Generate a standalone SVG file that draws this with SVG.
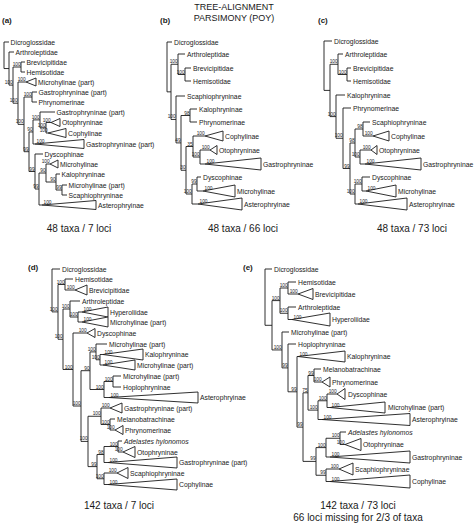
<svg xmlns="http://www.w3.org/2000/svg" width="474" height="523" viewBox="0 0 474 523">
<style>
text{font-family:"Liberation Sans",Arial,sans-serif;fill:#1a1a1a}
.t{font-size:6.8px;dominant-baseline:central}
.i{font-style:italic}
.n{font-size:4.8px;text-anchor:end}
.s{font-size:4.8px;text-anchor:start}
.c{font-size:10px;text-anchor:middle}
.p{font-size:8px;font-weight:bold}
.h{font-size:9px;text-anchor:middle}
.e path{fill:none;stroke:#1a1a1a;stroke-width:0.9}
polygon{fill:#fff;stroke:#1a1a1a;stroke-width:0.9;stroke-linejoin:miter}
</style>
<rect width="474" height="523" fill="#fff"/>
<g id="title"><text class="h" x="234" y="10">TREE-ALIGNMENT</text><text class="h" x="234" y="21">PARSIMONY (POY)</text></g>

<!-- Panel A -->
<g id="panel-a">
<text class="p" x="2" y="23">(a)</text>
<g class="e" id="a-connectors">
<path d="M9 42H4V68.55H9"/><path d="M14 52H9V85.1H13"/><path d="M21 67H13V103.2H18"/><path d="M25 62H21V72H25"/>
<path d="M26 82H18V124.35H24"/><path d="M32 97H24V151.7H29"/><path d="M37 92H32V102H37"/>
<path d="M33 131.95H29V171.5H35"/><path d="M40 119.9H33V144H35"/><path d="M55 112H40V127.75H46"/><path d="M51 122.5H46V133H48"/>
<path d="M43 154H35V189H39"/><path d="M46 173H39V205H42"/><path d="M50 164H46V182H56"/><path d="M60 174H56V190H62"/><path d="M67 185H62V195H67"/>
</g>
<g id="a-dicroglossidae"><text class="t" x="10.5" y="42">Dicroglossidae</text></g>
<g id="a-arthroleptidae"><text class="t" x="15.5" y="52">Arthroleptidae</text></g>
<g id="a-brevicipitidae"><text class="t" x="26.5" y="62">Brevicipitidae</text></g>
<g id="a-hemisotidae"><text class="t" x="26.5" y="72">Hemisotidae</text></g>
<g id="a-microhylinae-part1"><polygon points="26,82 36,78 36,86"/><text class="t" x="38" y="82">Microhylinae (part)</text></g>
<g id="a-gastrophryninae-part1"><text class="t" x="38.5" y="92">Gastrophryninae (part)</text></g>
<g id="a-phrynomerinae"><text class="t" x="38.5" y="102">Phrynomerinae</text></g>
<g id="a-gastrophryninae-part2"><text class="t" x="56.5" y="112">Gastrophryninae (part)</text></g>
<g id="a-otophryninae"><polygon points="51,122.5 60,118.5 60,126.5"/><text class="t" x="62" y="122.5">Otophryninae</text></g>
<g id="a-cophylinae"><polygon points="48,133 66,128.5 66,137.5"/><text class="t" x="68" y="133">Cophylinae</text></g>
<g id="a-gastrophryninae-part3"><polygon points="35,144 84,139.5 84,148.5"/><text class="t" x="86" y="144">Gastrophryninae (part)</text></g>
<g id="a-dyscophinae"><text class="t" x="44.5" y="154">Dyscophinae</text></g>
<g id="a-microhylinae"><polygon points="50,164 58,160 58,168"/><text class="t" x="60" y="164">Microhylinae</text></g>
<g id="a-kalophryninae"><text class="t" x="61.5" y="174">Kalophryninae</text></g>
<g id="a-microhylinae-part2"><text class="t" x="68.5" y="185">Microhylinae (part)</text></g>
<g id="a-scaphiophryninae"><text class="t" x="68.5" y="195">Scaphiophryninae</text></g>
<g id="a-asterophryinae"><polygon points="42,205 96,200.5 96,209.5"/><text class="t" x="98" y="205">Asterophryinae</text></g>
<g id="a-support">
<text class="n" x="20.7" y="66">100</text><text class="n" x="12.7" y="84.1">100</text><text class="n" x="17.7" y="102.2">100</text><text class="n" x="23.7" y="123.35">100</text>
<text class="n" x="31.7" y="96">100</text><text class="n" x="28.7" y="150.7">99</text><text class="n" x="32.7" y="130.95">90</text><text class="n" x="39.7" y="118.9">100</text>
<text class="n" x="45.7" y="126.75">100</text><text class="n" x="34.7" y="170.5">99</text><text class="n" x="38.7" y="188">99</text><text class="n" x="45.7" y="172">90</text>
<text class="n" x="55.7" y="181">90</text><text class="n" x="61.7" y="189">99</text>
<text class="n" x="25.7" y="81">100</text><text class="n" x="50.7" y="121.5">100</text><text class="n" x="47.7" y="132">100</text><text class="s" x="36.5" y="143">100</text>
<text class="n" x="49.7" y="163">100</text><text class="s" x="43.5" y="204">100</text>
</g>
<text class="c" x="79" y="232">48 taxa / 7 loci</text>
</g>

<!-- Panel B -->
<g id="panel-b">
<text class="p" x="160" y="23">(b)</text>
<g class="e" id="b-connectors">
<path d="M172 42H167V91.85H171"/><path d="M178 64.25H171V119.45H176"/><path d="M185 54H178V74.5H185"/><path d="M191 68H185V81H191"/>
<path d="M185 96H176V142.9H181"/><path d="M190 115.5H181V170.25H186"/><path d="M197 109H190V122H197"/>
<path d="M193 146.5H186V194H192"/><path d="M205 136H193V157H200"/><path d="M210 150H200V164H205"/>
<path d="M197 184H192V204H198"/><path d="M201 177H197V191H203"/>
</g>
<g id="b-dicroglossidae"><text class="t" x="174" y="42">Dicroglossidae</text></g>
<g id="b-arthroleptidae"><text class="t" x="187" y="54">Arthroleptidae</text></g>
<g id="b-brevicipitidae"><text class="t" x="193" y="68">Brevicipitidae</text></g>
<g id="b-hemisotidae"><text class="t" x="193" y="81">Hemisotidae</text></g>
<g id="b-scaphiophryninae"><text class="t" x="187" y="96">Scaphiophryninae</text></g>
<g id="b-kalophryninae"><text class="t" x="199" y="109">Kalophryninae</text></g>
<g id="b-phrynomerinae"><text class="t" x="199" y="122">Phrynomerinae</text></g>
<g id="b-cophylinae"><polygon points="205,136 223,131 223,141"/><text class="t" x="225" y="136">Cophylinae</text></g>
<g id="b-otophryninae"><polygon points="210,150 217,145.5 217,154.5"/><text class="t" x="219" y="150">Otophryninae</text></g>
<g id="b-gastrophryninae"><polygon points="205,164 261,158 261,170"/><text class="t" x="263" y="164">Gastrophryninae</text></g>
<g id="b-dyscophinae"><text class="t" x="203" y="177">Dyscophinae</text></g>
<g id="b-microhylinae"><polygon points="203,191 235,185 235,197"/><text class="t" x="237" y="191">Microhylinae</text></g>
<g id="b-asterophryinae"><polygon points="198,204 242,198 242,210"/><text class="t" x="244" y="204">Asterophryinae</text></g>
<g id="b-support">
<text class="n" x="184.7" y="73.5">100</text><text class="n" x="177.7" y="63.25">100</text><text class="n" x="189.7" y="114.5">98</text><text class="n" x="199.7" y="156">100</text>
<text class="n" x="192.7" y="145.5">35</text><text class="n" x="196.7" y="183">99</text><text class="n" x="191.7" y="193">100</text><text class="n" x="185.7" y="169.25">30</text>
<text class="n" x="180.7" y="141.9">49</text><text class="n" x="175.7" y="118.45">100</text>
<text class="n" x="204.7" y="135">100</text><text class="n" x="209.7" y="149">100</text><text class="s" x="206.5" y="163">100</text><text class="s" x="204.5" y="190">100</text><text class="s" x="199.5" y="203">100</text>
</g>
<text class="c" x="243" y="232">48 taxa / 66 loci</text>
</g>

<!-- Panel C -->
<g id="panel-c">
<text class="p" x="318" y="23">(c)</text>
<g class="e" id="c-connectors">
<path d="M332 41H324V90.4H330"/><path d="M338 64.25H330V116.6H336"/><path d="M343 54H338V74.5H347"/><path d="M351 68H347V81H351"/>
<path d="M345 95H336V138.25H343"/><path d="M351 108H343V168.5H350"/><path d="M355 143H350V194H355"/>
<path d="M363 129H355V157H360"/><path d="M370 122H363V136H373"/><path d="M371 150H360V164H365"/>
<path d="M362 184H355V204H358"/><path d="M370 177H362V191H366"/>
</g>
<g id="c-dicroglossidae"><text class="t" x="334" y="41">Dicroglossidae</text></g>
<g id="c-arthroleptidae"><text class="t" x="345" y="54">Arthroleptidae</text></g>
<g id="c-brevicipitidae"><text class="t" x="353" y="68">Brevicipitidae</text></g>
<g id="c-hemisotidae"><text class="t" x="353" y="81">Hemisotidae</text></g>
<g id="c-kalophryninae"><text class="t" x="347" y="95">Kalophryninae</text></g>
<g id="c-phrynomerinae"><text class="t" x="353" y="108">Phrynomerinae</text></g>
<g id="c-scaphiophryninae"><text class="t" x="372" y="122">Scaphiophryninae</text></g>
<g id="c-cophylinae"><polygon points="373,136 389,131 389,141"/><text class="t" x="391" y="136">Cophylinae</text></g>
<g id="c-otophryninae"><polygon points="371,150 377,145.5 377,154.5"/><text class="t" x="379" y="150">Otophryninae</text></g>
<g id="c-gastrophryninae"><polygon points="365,164 421,158 421,170"/><text class="t" x="423" y="164">Gastrophryninae</text></g>
<g id="c-dyscophinae"><text class="t" x="372" y="177">Dyscophinae</text></g>
<g id="c-microhylinae"><polygon points="366,191 396,185 396,197"/><text class="t" x="398" y="191">Microhylinae</text></g>
<g id="c-asterophryinae"><polygon points="358,204 407,198 407,210"/><text class="t" x="409" y="204">Asterophryinae</text></g>
<g id="c-support">
<text class="n" x="337.7" y="63.25">100</text><text class="n" x="346.7" y="73.5">100</text><text class="n" x="335.7" y="115.6">100</text><text class="n" x="342.7" y="137.25">100</text>
<text class="n" x="362.7" y="128">98</text><text class="n" x="354.7" y="142">98</text><text class="n" x="359.7" y="156">100</text><text class="n" x="349.7" y="167.5">99</text>
<text class="n" x="361.7" y="183">100</text><text class="n" x="354.7" y="193">100</text>
<text class="n" x="372.7" y="135">100</text><text class="n" x="370.7" y="149">100</text><text class="s" x="366.5" y="163">100</text><text class="s" x="367.5" y="190">100</text><text class="s" x="359.5" y="203">100</text>
</g>
<text class="c" x="412" y="232">48 taxa / 73 loci</text>
</g>

<!-- Panel D -->
<g id="panel-d">
<text class="p" x="28" y="270">(d)</text>
<g class="e" id="d-connectors">
<path d="M60 269H52V311.9H58"/><path d="M65 284.5H58V339.25H63"/><path d="M73 279H65V290H75"/>
<path d="M70 309H63V369.5H73"/><path d="M80 301H70V317H78"/><path d="M82 312H78V322H82"/>
<path d="M87 333H73V406H81"/><path d="M90 370.7H81V441.4H88"/>
<path d="M96 351.9H90V389.5H104"/><path d="M107 344H96V359.75H100"/><path d="M103 354.5H100V365H103"/>
<path d="M113 381.5H104V397.5H109"/><path d="M121 376H113V387H121"/>
<path d="M101 416.25H88V466.6H97"/><path d="M110 408H101V424.5H110"/><path d="M115 419H110V430H115"/>
<path d="M104 454.5H97V478.75H104"/><path d="M118 446.5H104V462.5H108"/><path d="M122 441H118V452H123"/><path d="M117 473H104V484.5H108"/>
</g>
<g id="d-dicroglossidae"><text class="t" x="62" y="269">Dicroglossidae</text></g>
<g id="d-hemisotidae"><text class="t" x="75" y="279">Hemisotidae</text></g>
<g id="d-brevicipitidae"><polygon points="75,290 87,285 87,295"/><text class="t" x="89" y="290">Brevicipitidae</text></g>
<g id="d-arthroleptidae"><text class="t" x="82" y="301">Arthroleptidae</text></g>
<g id="d-hyperoliidae"><polygon points="82,312 108,307 108,317"/><text class="t" x="110" y="312">Hyperoliidae</text></g>
<g id="d-microhylinae-part1"><polygon points="82,322 108,317 108,327"/><text class="t" x="110" y="322">Microhylinae (part)</text></g>
<g id="d-dyscophinae"><polygon points="87,333 95,328.5 95,337.5"/><text class="t" x="97" y="333">Dyscophinae</text></g>
<g id="d-microhylinae-part2"><text class="t" x="109" y="344">Microhylinae (part)</text></g>
<g id="d-kalophryninae"><polygon points="103,354.5 143,349 143,360"/><text class="t" x="145" y="354.5">Kalophryninae</text></g>
<g id="d-microhylinae-part3"><polygon points="103,365 135,360 135,370"/><text class="t" x="137" y="365">Microhylinae (part)</text></g>
<g id="d-microhylinae-part4"><text class="t" x="123" y="376">Microhylinae (part)</text></g>
<g id="d-hoplophryninae"><text class="t" x="123" y="387">Hoplophryninae</text></g>
<g id="d-asterophryinae"><polygon points="109,397.5 198,392 198,403"/><text class="t" x="200" y="397.5">Asterophryinae</text></g>
<g id="d-gastrophryninae-part1"><polygon points="110,408 122,403 122,413"/><text class="t" x="124" y="408">Gastrophryninae (part)</text></g>
<g id="d-melanobatrachinae"><text class="t" x="117" y="419">Melanobatrachinae</text></g>
<g id="d-phrynomerinae"><polygon points="115,430 123,425.5 123,434.5"/><text class="t" x="125" y="430">Phrynomerinae</text></g>
<g id="d-adelastes"><text class="t i" x="124" y="441">Adelastes hylonomos</text></g>
<g id="d-otophryninae"><polygon points="123,452 135,446.5 135,457.5"/><text class="t" x="137" y="452">Otophryninae</text></g>
<g id="d-gastrophryninae-part2"><polygon points="108,462.5 177,457 177,468"/><text class="t" x="179" y="462.5">Gastrophryninae (part)</text></g>
<g id="d-scaphiophryninae"><polygon points="117,473 128,467.5 128,478.5"/><text class="t" x="130" y="473">Scaphiophryninae</text></g>
<g id="d-cophylinae"><polygon points="108,484.5 177,479 177,490"/><text class="t" x="179" y="484.5">Cophylinae</text></g>
<g id="d-support">
<text class="n" x="64.7" y="283.5">100</text><text class="n" x="77.7" y="316">100</text><text class="n" x="69.7" y="308">100</text><text class="n" x="57.7" y="310.9">100</text>
<text class="n" x="62.7" y="338.25">100</text><text class="n" x="72.7" y="368.5">100</text><text class="n" x="80.7" y="405">100</text><text class="n" x="89.7" y="369.7">90</text>
<text class="n" x="95.7" y="350.9">100</text><text class="n" x="99.7" y="358.75">100</text><text class="n" x="112.7" y="380.5">100</text><text class="n" x="103.7" y="388.5">100</text>
<text class="n" x="87.7" y="440.4">100</text><text class="n" x="100.7" y="415.25">100</text><text class="n" x="109.7" y="423.5">100</text><text class="n" x="117.7" y="445.5">100</text>
<text class="n" x="103.7" y="453.5">98</text><text class="n" x="103.7" y="477.75">100</text><text class="n" x="96.7" y="465.6">99</text>
<text class="n" x="74.7" y="289">100</text><text class="s" x="83.5" y="311">100</text><text class="s" x="83.5" y="321">100</text><text class="n" x="86.7" y="332">100</text>
<text class="s" x="104.5" y="353.5">100</text><text class="s" x="104.5" y="364">100</text><text class="s" x="110.5" y="396.5">100</text><text class="n" x="109.7" y="407">100</text>
<text class="n" x="114.7" y="429">100</text><text class="n" x="122.7" y="451">100</text><text class="s" x="109.5" y="461.5">100</text><text class="n" x="116.7" y="472">100</text><text class="s" x="109.5" y="483.5">100</text>
</g>
<text class="c" x="119" y="509">142 taxa / 7 loci</text>
</g>

<!-- Panel E -->
<g id="panel-e">
<text class="p" x="243" y="270">(e)</text>
<g class="e" id="e-connectors">
<path d="M272 269H265V325.3H272"/><path d="M280 300.6H272V349.95H282"/><path d="M288 288H280V313.25H288"/>
<path d="M296 282H288V294H298"/><path d="M296 307H288V319.5H292"/>
<path d="M289 332H282V367.9H288"/><path d="M296 344H288V391.8H297"/><path d="M298 356.5H297V427.1H303"/>
<path d="M308 392.8H303V461.4H316"/><path d="M314 375.5H308V410.1H318"/><path d="M321 369H314V382H322"/>
<path d="M327 400.75H318V419.5H322"/><path d="M337 394H327V407.5H330"/>
<path d="M326 447.6H316V475.25H326"/><path d="M340 438.25H326V457H330"/><path d="M346 432H340V444.5H345"/><path d="M339 469H326V481.5H330"/>
</g>
<g id="e-dicroglossidae"><text class="t" x="274" y="269">Dicroglossidae</text></g>
<g id="e-hemisotidae"><text class="t" x="298" y="282">Hemisotidae</text></g>
<g id="e-brevicipitidae"><polygon points="298,294 313,288.5 313,299.5"/><text class="t" x="315" y="294">Brevicipitidae</text></g>
<g id="e-arthroleptidae"><text class="t" x="298" y="307">Arthroleptidae</text></g>
<g id="e-hyperoliidae"><polygon points="292,319.5 330,313 330,326"/><text class="t" x="332" y="319.5">Hyperoliidae</text></g>
<g id="e-microhylinae-part1"><text class="t" x="291" y="332">Microhylinae (part)</text></g>
<g id="e-hoplophryninae"><text class="t" x="298" y="344">Hoplophryninae</text></g>
<g id="e-kalophryninae"><polygon points="298,356.5 345,351 345,362"/><text class="t" x="347" y="356.5">Kalophryninae</text></g>
<g id="e-melanobatrachinae"><text class="t" x="323" y="369">Melanobatrachinae</text></g>
<g id="e-phrynomerinae"><polygon points="322,382 330,377 330,387"/><text class="t" x="332" y="382">Phrynomerinae</text></g>
<g id="e-dyscophinae"><polygon points="337,394 345,388.5 345,399.5"/><text class="t" x="348" y="394">Dyscophinae</text></g>
<g id="e-microhylinae-part2"><polygon points="330,407.5 385,402 385,413"/><text class="t" x="388" y="407.5">Microhylinae (part)</text></g>
<g id="e-asterophryinae"><polygon points="322,419.5 410,413.5 410,425.5"/><text class="t" x="412" y="419.5">Asterophryinae</text></g>
<g id="e-adelastes"><text class="t i" x="348" y="432">Adelastes hylonomos</text></g>
<g id="e-otophryninae"><polygon points="345,444.5 361,438.5 361,450.5"/><text class="t" x="363" y="444.5">Otophryninae</text></g>
<g id="e-gastrophryninae"><polygon points="330,457 410,451 410,463"/><text class="t" x="412" y="457">Gastrophryninae</text></g>
<g id="e-scaphiophryninae"><polygon points="339,469 353,463 353,475"/><text class="t" x="355" y="469">Scaphiophryninae</text></g>
<g id="e-cophylinae"><polygon points="330,481.5 410,475 410,488"/><text class="t" x="412" y="481.5">Cophylinae</text></g>
<g id="e-support">
<text class="n" x="287.7" y="287">100</text><text class="n" x="287.7" y="312.25">100</text><text class="n" x="279.7" y="299.6">100</text><text class="n" x="281.7" y="348.95">100</text>
<text class="n" x="287.7" y="366.9">99</text><text class="n" x="296.7" y="390.8">99</text><text class="n" x="307.7" y="391.8">75</text><text class="n" x="313.7" y="374.5">99</text>
<text class="n" x="326.7" y="399.75">100</text><text class="n" x="317.7" y="409.1">100</text><text class="n" x="302.7" y="426.1">99</text><text class="n" x="315.7" y="460.4">99</text>
<text class="n" x="325.7" y="446.6">100</text><text class="n" x="339.7" y="437.25">100</text><text class="n" x="325.7" y="474.25">99</text>
<text class="n" x="297.7" y="293">100</text><text class="s" x="293.5" y="318.5">100</text><text class="s" x="299.5" y="355.5">100</text><text class="n" x="321.7" y="381">100</text>
<text class="n" x="336.7" y="393">100</text><text class="s" x="331.5" y="406.5">100</text><text class="s" x="323.5" y="418.5">100</text><text class="n" x="344.7" y="443.5">100</text>
<text class="s" x="331.5" y="456">100</text><text class="n" x="338.7" y="468">100</text><text class="s" x="331.5" y="480.5">100</text>
</g>
<text class="c" x="358" y="509">142 taxa / 73 loci</text>
<text class="c" x="358" y="521">66 loci missing for 2/3 of taxa</text>
</g>
</svg>
